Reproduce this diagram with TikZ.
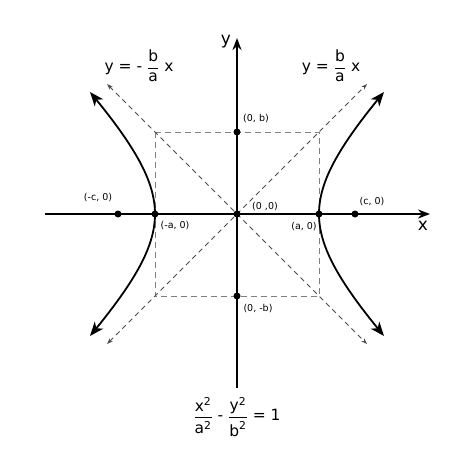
\documentclass[tikz,border=0pt]{standalone}
\usepackage{fontspec}
\usepackage{amsmath}
\setmainfont{DejaVu Sans}
\usetikzlibrary{arrows.meta}
\newcommand{\tfr}[2]{\genfrac{}{}{1.1pt}{0}{#1}{#2}}
\begin{document}
\begin{tikzpicture}[x=1pt,y=-1pt,
 axis/.style={line width=2pt,-{Stealth[length=12pt,width=9pt]}},
 curve/.style={line width=1.8pt,{Stealth[length=14pt,width=11pt,inset=4pt]}-{Stealth[length=14pt,width=11pt,inset=4pt]}},
 asym/.style={gray!60!black,line width=0.8pt,dash pattern=on 5pt off 4pt,{Stealth[length=6pt,width=4pt]}-{Stealth[length=6pt,width=4pt]}},
 boxline/.style={gray,line width=0.8pt,dash pattern=on 6pt off 4pt},
 dot/.style={circle,fill=black,inner sep=0pt,minimum size=7pt},
 ptlabel/.style={font=\fontsize{9.5}{11}\selectfont,inner sep=1pt},
 eq/.style={font=\fontsize{15.5}{18}\selectfont,inner sep=1pt},
 axlabel/.style={font=\fontsize{17}{19}\selectfont,inner sep=1pt}]
\useasboundingbox[fill=white] (0,0) rectangle (474,474);
% coordinates
\coordinate (xl) at (45,214);
\coordinate (xr) at (430,214);
\coordinate (yb) at (237,388);
\coordinate (yt) at (237,38);
\coordinate (c1) at (155,132);
\coordinate (c2) at (319,132);
\coordinate (c3) at (319,296);
\coordinate (c4) at (155,296);
\coordinate (a1) at (107,344);
\coordinate (a2) at (367,84);
\coordinate (a3) at (107,84);
\coordinate (a4) at (367,344);
% box and asymptotes
\draw[boxline] (c1) -- (c2) -- (c3) -- (c4) -- cycle;
\draw[asym] (a1) -- (a2);
\draw[asym] (a3) -- (a4);
% axes
\draw[axis] (xl) -- (xr);
\draw[axis] (yb) -- (yt);
% hyperbola
\draw[curve] plot[domain=-12.2:12.2,samples=61,smooth] ({237+10*sqrt(67.24+\x*\x)},{214+10*\x});
\draw[curve] plot[domain=-12.2:12.2,samples=61,smooth] ({237-10*sqrt(67.24+\x*\x)},{214+10*\x});
% dots
\node[dot] (O) at (237,214) {};
\node[dot] (pb) at (237,132) {};
\node[dot] (mb) at (237,296) {};
\node[dot] (pa) at (319,214) {};
\node[dot] (ma) at (155,214) {};
\node[dot] (pc) at (355,214) {};
\node[dot] (mc) at (118,214) {};
% labels
\node[ptlabel] (lpb) at (256,119) {(0, b)};
\node[ptlabel] (lmb) at (258,309) {(0, -b)};
\node[ptlabel] (lO) at (265,207) {(0 ,0)};
\node[ptlabel] (lpa) at (304,227) {(a, 0)};
\node[ptlabel] (lma) at (175,226) {(-a, 0)};
\node[ptlabel] (lpc) at (372,202) {(c, 0)};
\node[ptlabel] (lmc) at (98,198) {(-c, 0)};
\node[axlabel] (lx) at (423,226) {x};
\node[axlabel] (ly) at (226,42) {y};
\node[eq] (eqr) at (331,66) {y = $\tfr{\text{b}}{\text{a}}$ x};
\node[eq] (eql) at (139,66) {y = - $\tfr{\text{b}}{\text{a}}$ x};
\node[eq] (formula) at (237,417) {$\tfr{\text{x}^{\text{2}}}{\text{a}^{\text{2}}}$ - $\tfr{\text{y}^{\text{2}}}{\text{b}^{\text{2}}}$ = 1};
\end{tikzpicture}
\end{document}
